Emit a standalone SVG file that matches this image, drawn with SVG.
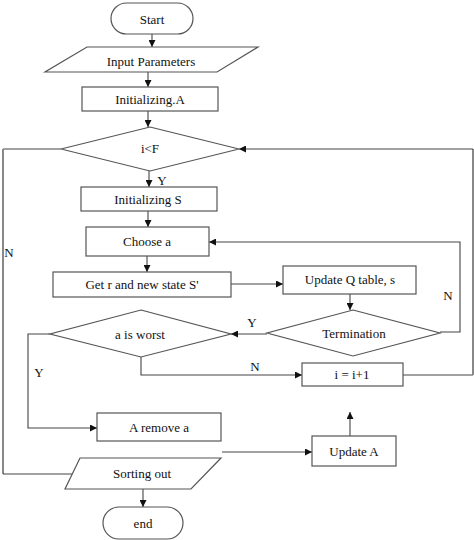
<svg xmlns="http://www.w3.org/2000/svg" width="474" height="540" viewBox="0 0 474 540">
<style>
.s{fill:#fff;stroke:#555;stroke-width:1.2}
.t{font-family:"Liberation Serif","Times New Roman",serif;font-size:13px;fill:#111;text-anchor:middle}
.c{fill:none;stroke:#444;stroke-width:1.1}
.g{fill:none;stroke:#888;stroke-width:2}
</style>
<defs>
<marker id="a" viewBox="0 0 10 10" refX="10" refY="5" markerWidth="7" markerHeight="7" markerUnits="userSpaceOnUse" orient="auto"><path d="M0,0L10,5L0,10z" fill="#111"/></marker>
</defs>
<rect width="474" height="540" fill="#fff"/>
<g id="connectors">
<path class="c" d="M152,34V47" marker-end="url(#a)"/>
<path class="c" d="M148,72V87" marker-end="url(#a)"/>
<path class="c" d="M148,111V127" marker-end="url(#a)"/>
<path class="c" d="M149,171V187" marker-end="url(#a)"/>
<path class="c" d="M148,211V227" marker-end="url(#a)"/>
<path class="c" d="M147,256V272" marker-end="url(#a)"/>
<path class="c" d="M231,284H283" marker-end="url(#a)"/>
<path class="c" d="M350,294V310" marker-end="url(#a)"/>
<path class="c" d="M267,334H231" marker-end="url(#a)"/>
<path class="c" d="M440,332H460V242H209" marker-end="url(#a)"/>
<path class="c" d="M50,334H28V428H97" marker-end="url(#a)"/>
<path class="c" d="M141,357V375H302" marker-end="url(#a)"/>
<path class="c" d="M403,375H473"/>
<path class="g" d="M473,375V149"/>
<path class="c" d="M473,149H239" marker-end="url(#a)"/>
<path class="c" d="M61,149H3"/>
<path class="g" d="M3,149V474"/>
<path class="c" d="M3,474H80" marker-end="url(#a)"/>
<path class="c" d="M350,436V412" marker-end="url(#a)"/>
<path class="c" d="M222,452H312" marker-end="url(#a)"/>
<path class="c" d="M143,489V507" marker-end="url(#a)"/>
<text class="t" x="162" y="185">Y</text>
<text class="t" x="9" y="257">N</text>
<text class="t" x="448" y="300">N</text>
<text class="t" x="252" y="327">Y</text>
<text class="t" x="39" y="377">Y</text>
<text class="t" x="255" y="371">N</text>
</g>
<g id="start"><rect class="s" x="111" y="3" width="82" height="31" rx="15.5"/><text class="t" x="152" y="24">Start</text></g>
<g id="input"><path class="s" d="M87,47H258L217,72H45z"/><text class="t" x="151" y="66">Input Parameters</text></g>
<g id="initA"><rect class="s" x="82" y="87" width="136" height="24"/><text class="t" x="150" y="104">Initializing.A</text></g>
<g id="cond"><path class="s" d="M150,127L239,149L150,171L61,149z"/><text class="t" x="150" y="153">i&lt;F</text></g>
<g id="initS"><rect class="s" x="81" y="187" width="136" height="24"/><text class="t" x="148" y="204">Initializing S</text></g>
<g id="choose"><rect class="s" x="86" y="227" width="123" height="29"/><text class="t" x="147" y="246">Choose a</text></g>
<g id="getr"><rect class="s" x="53" y="272" width="178" height="25"/><text class="t" x="142" y="289">Get r and new state S'</text></g>
<g id="updq"><rect class="s" x="283" y="266" width="133" height="28"/><text class="t" x="350" y="284">Update Q table, s</text></g>
<g id="term"><path class="s" d="M353,310L440,333L353,356L267,333z"/><text class="t" x="354" y="338">Termination</text></g>
<g id="worst"><path class="s" d="M141,310L231,334L141,357L50,334z"/><text class="t" x="140" y="339">a is worst</text></g>
<g id="inc"><rect class="s" x="302" y="363" width="101" height="23"/><text class="t" x="352" y="379">i = i+1</text></g>
<g id="remove"><rect class="s" x="97" y="413" width="124" height="28"/><text class="t" x="159" y="432">A remove a</text></g>
<g id="updA"><rect class="s" x="312" y="436" width="84" height="30"/><text class="t" x="354" y="456">Update A</text></g>
<g id="sort"><path class="s" d="M80,458H221L191,489H65z"/><text class="t" x="142" y="478">Sorting out</text></g>
<g id="end"><rect class="s" x="103" y="507" width="80" height="32" rx="16"/><text class="t" x="143" y="528">end</text></g>
</svg>
